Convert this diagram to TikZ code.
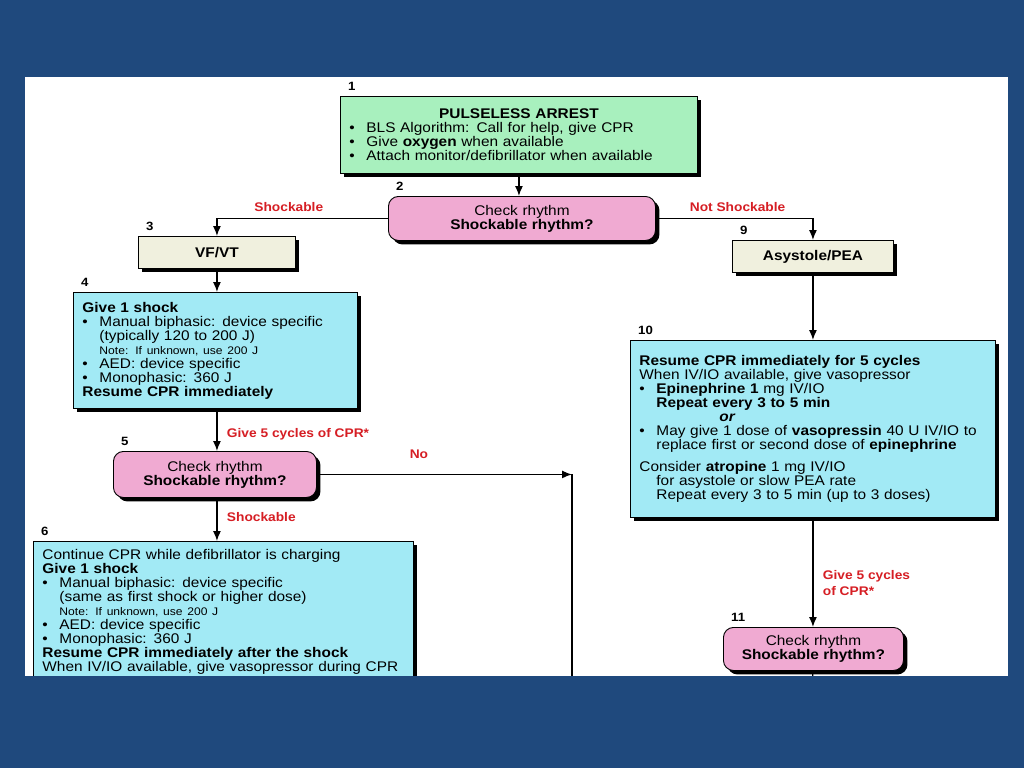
\documentclass[tikz,border=0pt]{standalone}
\usepackage{fontspec}
\setmainfont{Liberation Sans}[FakeStretch=1.1]
\usetikzlibrary{positioning,shadows,arrows.meta}
\definecolor{slideblue}{RGB}{31,73,125}
\definecolor{startgreen}{RGB}{168,240,190}
\definecolor{checkpink}{RGB}{240,170,210}
\definecolor{rhythmbeige}{RGB}{240,240,222}
\definecolor{actioncyan}{RGB}{162,234,245}
\definecolor{alertred}{RGB}{214,30,36}
\newcommand{\itm}{\makebox[17pt][l]{\textbullet}}
\newcommand{\ind}{\hspace*{17pt}}
\newcommand{\note}[1]{{\fontsize{11}{12}\selectfont #1}}
\tikzset{
  box/.style={draw=black, line width=0.9pt, anchor=north west, align=left,
    inner xsep=9pt, inner ysep=5pt, font=\fontsize{14}{14}\selectfont,
    drop shadow={shadow xshift=4pt, shadow yshift=-4pt, fill=black, opacity=1}},
  check/.style={box, fill=checkpink, rounded corners=10pt, align=center},
  num/.style={font=\bfseries\fontsize{12}{12}\selectfont, inner sep=0pt,
    above right=5pt and 8pt},
  lbl/.style={text=alertred, font=\bfseries\fontsize{12.5}{16}\selectfont, align=left},
  arr/.style={-{Latex[length=10pt,width=8pt]}, line width=1.3pt},
  lin/.style={line width=1.3pt}
}
\begin{document}
\begin{tikzpicture}[x=1pt, y=-1pt]
  \fill[slideblue] (0,0) rectangle (1024,768);
  \fill[white] (25,77) rectangle (1008,676);

  % boxes
  \node[box, fill=startgreen, text width=339pt, minimum height=77pt] (b1) at (340,96)
    {\makebox[\linewidth]{\bfseries PULSELESS ARREST}\\
     \itm BLS Algorithm: Call for help, give CPR\\
     \itm Give \textbf{oxygen} when available\\
     \itm Attach monitor/defibrillator when available};
  \node[check, text width=249pt, minimum height=44pt] (b2) at (388,196)
    {Check rhythm\\\textbf{Shockable rhythm?}};
  \node[box, fill=rhythmbeige, align=center, text width=139pt, minimum height=32pt] (b3) at (138,236)
    {\textbf{VF/VT}};
  \node[box, fill=actioncyan, text width=266pt, minimum height=116pt] (b4) at (73,292)
    {\textbf{Give 1 shock}\\
     \itm Manual biphasic: device specific\\
     \ind (typically 120 to 200 J)\\
     \ind \note{Note: If unknown, use 200 J}\\
     \itm AED: device specific\\
     \itm Monophasic: 360 J\\
     \textbf{Resume CPR immediately}};
  \node[check, text width=185pt, minimum height=46pt] (b5) at (113,451)
    {Check rhythm\\\textbf{Shockable rhythm?}};
  \node[box, fill=actioncyan, text width=362pt, minimum height=140pt] (b6) at (33,541)
    {Continue CPR while defibrillator is charging\\
     \textbf{Give 1 shock}\\
     \itm Manual biphasic: device specific\\
     \ind (same as first shock or higher dose)\\
     \ind \note{Note: If unknown, use 200 J}\\
     \itm AED: device specific\\
     \itm Monophasic: 360 J\\
     \textbf{Resume CPR immediately after the shock}\\
     When IV/IO available, give vasopressor during CPR};
  \node[box, fill=rhythmbeige, align=center, text width=143pt, minimum height=32pt] (b9) at (732,240)
    {\textbf{Asystole/PEA}};
  \node[box, fill=actioncyan, text width=347pt, minimum height=177pt] (b10) at (630,340)
    {\textbf{Resume CPR immediately for 5 cycles}\\
     When IV/IO available, give vasopressor\\
     \itm \textbf{Epinephrine 1} mg IV/IO\\
     \ind \textbf{Repeat every 3 to 5 min}\\
     \hspace*{80pt}\textbf{\itshape or}\\
     \itm May give 1 dose of \textbf{vasopressin} 40 U IV/IO to\\
     \ind replace first or second dose of \textbf{epinephrine}\\[8pt]
     Consider \textbf{atropine} 1 mg IV/IO\\
     \ind for asystole or slow PEA rate\\
     \ind Repeat every 3 to 5 min (up to 3 doses)};
  \node[check, text width=162pt, minimum height=43pt] (b11) at (723,627)
    {Check rhythm\\\textbf{Shockable rhythm?}};

  % step numbers
  \node[num] at (b1.north west) {1};
  \node[num] at (b2.north west) {2};
  \node[num] at (b3.north west) {3};
  \node[num] at (b4.north west) {4};
  \node[num] at (b5.north west) {5};
  \node[num] at (b6.north west) {6};
  \node[num] at (b9.north west) {9};
  \node[num] at (b10.north west) {10};
  \node[num] at (b11.north west) {11};

  % connectors
  \coordinate (no) at (572,477);
  \coordinate (noend) at (572,690);
  \coordinate (yesend) at (812,690);
  \draw[arr] (b1.south) -- (b1.south |- b2.north);
  \draw[arr] (b2.west) -| (b3.north) node[lbl, pos=0.29, above=3pt] {Shockable};
  \draw[arr] (b2.east) -| (b9.north) node[lbl, pos=0.26, above=3pt] {Not Shockable};
  \draw[arr] (b3) -- (b4.north -| b3.south);
  \draw[arr] (b4.south -| b3.south) -- (b5.north -| b3.south)
    node[lbl, pos=0.6, right=6pt] {Give 5 cycles of CPR*};
  \draw[arr] (b5.east) -- (b5.east -| no) node[lbl, pos=0.4, above=12pt] {No};
  \draw[lin] (b5.east -| no) -- (noend);
  \draw[arr] (b5.south -| b3.south) -- (b6.north -| b3.south)
    node[lbl, pos=0.45, right=6pt] {Shockable};
  \draw[arr] (b9) -- (b10.north -| b9.south);
  \draw[arr] (b10.south -| b9.south) -- (b11.north -| b9.south)
    node[lbl, pos=0.6, right=6pt] {Give 5 cycles\\of CPR*};
  \draw[lin] (b11.south -| b9.south) -- (yesend);

  \fill[slideblue] (0,676) rectangle (1024,768);
\end{tikzpicture}
\end{document}
